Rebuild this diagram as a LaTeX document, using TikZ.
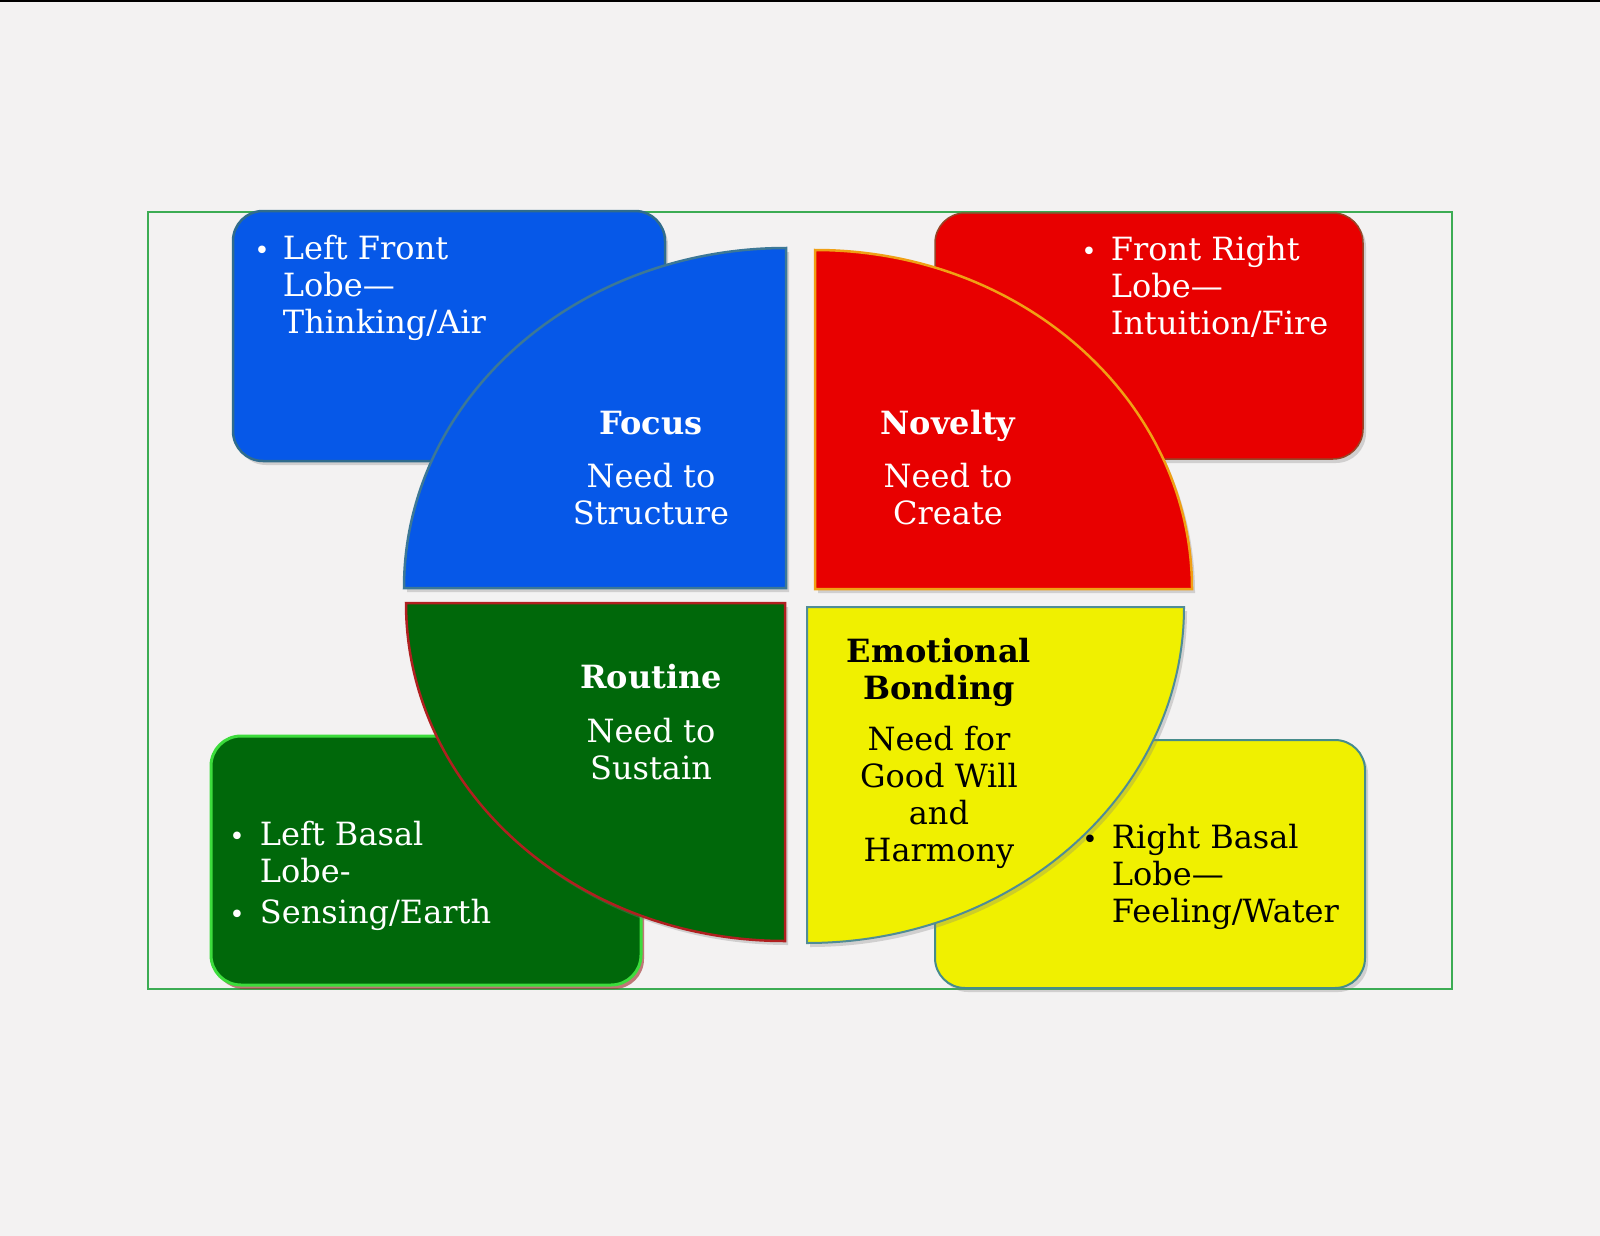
\documentclass[tikz,border=0pt]{standalone}
\usepackage{fontspec}
\setmainfont{DejaVu Serif}
\usepackage{tikz}
\usetikzlibrary{shadows}
\definecolor{pagegray}{RGB}{243,242,242}
\definecolor{framegreen}{RGB}{60,172,84}
\definecolor{lobeblue}{RGB}{6,88,232}
\definecolor{lobered}{RGB}{232,0,0}
\definecolor{lobegreen}{RGB}{0,104,10}
\definecolor{lobeyellow}{RGB}{240,240,0}
\definecolor{rimblue}{RGB}{48,108,140}
\definecolor{rimred}{RGB}{150,70,40}
\definecolor{rimgreen}{RGB}{60,220,60}
\definecolor{rimyellow}{RGB}{70,140,140}
\definecolor{arcblue}{RGB}{60,120,150}
\definecolor{arcred}{RGB}{240,160,20}
\definecolor{arcgreen}{RGB}{176,32,32}
\definecolor{arcyellow}{RGB}{80,140,150}

\begin{document}
\begin{tikzpicture}[x=1pt,y=1pt,yscale=-1,xscale=1,
  box/.style={rounded corners=30pt, line width=2.5pt,
    drop shadow={opacity=0.3, shadow xshift=3pt, shadow yshift=-4pt}},
  quarter/.style={line width=2.5pt,
    drop shadow={opacity=0.3, shadow xshift=3pt, shadow yshift=-4pt}},
  txt/.style={inner sep=0.75pt, font=\fontsize{32}{37}\selectfont},
  head/.style={inner sep=0.75pt, font=\fontsize{32}{37}\selectfont\bfseries},
  dot/.style={inner sep=0.75pt, font=\fontsize{26}{37}\selectfont}]

%Page and frame
\fill [pagegray] (0,0) rectangle (1600,1236);
\fill [black] (0,0) rectangle (1600,2.5);
\draw [framegreen, line width=1.5pt] (148,212) rectangle (1452,989);

%Rounded Rect: left front
\draw [box, fill=lobeblue, draw=rimblue] (233,211) rectangle (665,461);
%Rounded Rect: front right
\draw [box, fill=lobered, draw=rimred, line width=1.5pt] (935,213) rectangle (1363,459);
%Rounded Rect: left basal
\draw [box, fill=lobegreen, draw=rimgreen, line width=3pt,
  drop shadow={opacity=0.5, color=arcgreen, shadow xshift=3pt, shadow yshift=-4pt}] (211,736) rectangle (641,985);
%Rounded Rect: right basal
\draw [box, fill=lobeyellow, draw=rimyellow, line width=2pt] (935,740) rectangle (1365,988);

%Quarter: Focus
\draw [quarter, fill=lobeblue, draw=arcblue] (786,588) -- (404,588) arc [start angle=180, end angle=270, x radius=382, y radius=340] -- cycle;
%Quarter: Novelty
\draw [quarter, fill=lobered, draw=arcred] (815,589) -- (815,250) arc [start angle=270, end angle=360, x radius=377, y radius=339] -- cycle;
%Quarter: Routine
\draw [quarter, fill=lobegreen, draw=arcgreen] (785,603) -- (406,603) arc [start angle=180, end angle=90, x radius=379, y radius=338] -- cycle;
%Quarter: Emotional Bonding
\draw [quarter, fill=lobeyellow, draw=arcyellow, line width=2pt] (807,607) -- (1184,607) arc [start angle=0, end angle=90, x radius=377, y radius=336] -- cycle;

% Text Node (base = last line)
\draw (262,259) node [dot, text=white, anchor=base] (lfdot) {\textbullet};
% Text Node
\draw (282,333) node [txt, text=white, anchor=base west, align=left] (lfront) {Left Front\\Lobe—\\Thinking/Air};
% Text Node
\draw (1089,260) node [dot, text=white, anchor=base] (frdot) {\textbullet};
% Text Node
\draw (1110,334) node [txt, text=white, anchor=base west, align=left] (fright) {Front Right\\Lobe—\\Intuition/Fire};
% Text Node
\draw (237,845) node [dot, text=white, anchor=base] (lbdot) {\textbullet};
% Text Node
\draw (259,882) node [txt, text=white, anchor=base west, align=left] (lbasal) {Left Basal\\Lobe-};
% Text Node
\draw (237,923) node [dot, text=white, anchor=base] (sedot) {\textbullet};
% Text Node
\draw (259,923) node [txt, text=white, anchor=base west] (sensing) {Sensing/Earth};
% Text Node
\draw (1090,848) node [dot, anchor=base] (rbdot) {\textbullet};
% Text Node
\draw (1111,922) node [txt, anchor=base west, align=left] (rbasal) {Right Basal\\Lobe—\\Feeling/Water};

% Text Node
\draw (651,434) node [head, text=white, anchor=base] (focus) {Focus};
% Text Node
\draw (651,524) node [txt, text=white, anchor=base, align=center] (structure) {Need to\\Structure};
% Text Node
\draw (948,434) node [head, text=white, anchor=base] (novelty) {Novelty};
% Text Node
\draw (948,524) node [txt, text=white, anchor=base, align=center] (create) {Need to\\Create};
% Text Node
\draw (651,688) node [head, text=white, anchor=base] (routine) {Routine};
% Text Node
\draw (651,779) node [txt, text=white, anchor=base, align=center] (sustain) {Need to\\Sustain};
% Text Node
\draw (939,699) node [head, anchor=base, align=center] (bonding) {Emotional\\Bonding};
% Text Node
\draw (939,861) node [txt, anchor=base, align=center] (harmony) {Need for\\Good Will\\and\\Harmony};
\end{tikzpicture}
\end{document}
